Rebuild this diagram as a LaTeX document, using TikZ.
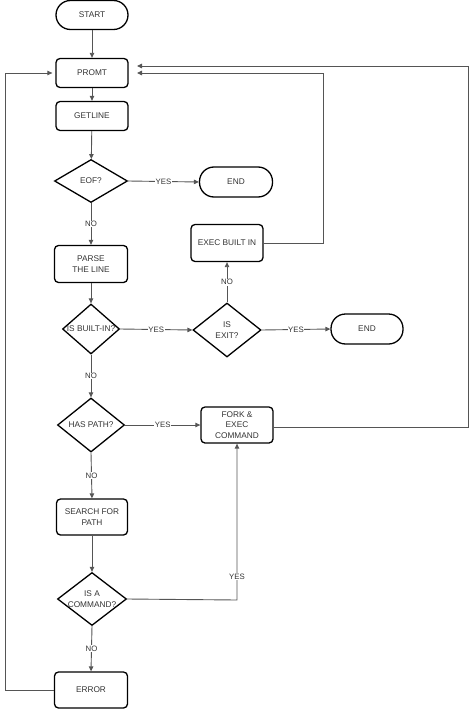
\documentclass[tikz,border=0pt]{standalone}
\usepackage{fontspec}
\setmainfont{Liberation Sans}
\usetikzlibrary{shapes.geometric,arrows.meta}
\definecolor{txt}{HTML}{333333}
\definecolor{ln}{HTML}{555555}
\begin{document}
\begin{tikzpicture}[x=1pt,y=-1pt,
  every node/.style={font=\fontsize{8.3}{10.5}\selectfont, text=txt, align=center},
  term/.style={draw=black, line width=1.3pt, rounded corners=14.5pt, minimum width=72pt, minimum height=29pt, inner sep=0pt},
  proc/.style={draw=black, line width=1.3pt, rounded corners=4pt, minimum width=72pt, inner sep=0pt},
  dec/.style={draw=black, line width=1.3pt, diamond, inner sep=0pt},
  conn/.style={draw=ln, line width=0.9pt, -{Triangle[length=5pt,width=4.5pt]}},
  plain/.style={draw=ln, line width=0.9pt},
  lab/.style={fill=white, inner sep=0.5pt, font=\fontsize{7.8}{9}\selectfont}
]
\useasboundingbox (0,0) rectangle (474,709);
% nodes
\node[term] (start) at (92,15) {START};
\node[proc, minimum height=29pt] (promt) at (92,73) {PROMT};
\node[proc, minimum height=29pt] (getline) at (92,116) {GETLINE};
\node[dec, minimum width=73pt, minimum height=43pt, label=center:{EOF?}] (eof) at (91,181) {};
\node[term, minimum width=73pt, minimum height=30pt] (end1) at (236,182) {END};
\node[proc, minimum height=37pt] (execb) at (227,243) {EXEC BUILT IN};
\node[proc, minimum width=73pt, minimum height=37pt] (parse) at (91,264) {PARSE\\THE LINE};
\node[dec, minimum width=57pt, minimum height=50pt, label=center:{IS BUILT-IN?}] (builtin) at (91,329) {};
\node[dec, minimum width=68pt, minimum height=54pt, label=center:{IS\\EXIT?}] (exit) at (227,330) {};
\node[term, minimum height=30pt] (end2) at (367,329) {END};
\node[dec, minimum width=67pt, minimum height=54pt, label=center:{HAS PATH?}] (haspath) at (91,425) {};
\node[proc, minimum height=36pt] (fork) at (237,425) {FORK \&\\EXEC\\COMMAND};
\node[proc, minimum width=71pt, minimum height=36pt] (search) at (92,517) {SEARCH FOR\\PATH};
\node[dec, minimum width=69pt, minimum height=53pt, label=center:{IS A\\COMMAND?}] (iscmd) at (92,599) {};
\node[proc, minimum width=73pt, minimum height=36pt] (error) at (91,690) {ERROR};
% free ends
\coordinate (pe1) at (137,73);
\coordinate (pe2) at (137,66);
\coordinate (le) at (5,690);
\coordinate (r1) at (323,243);
\coordinate (r2) at (468,427);
\coordinate (cm) at (237,600);
% connectors
\draw[conn] (start) -- (promt);
\draw[conn] (promt) -- (getline);
\draw[conn] (getline) -- (eof);
\draw[conn] (eof.east) -- node[lab]{YES} (end1.west);
\draw[conn] (eof.south) -- node[lab]{NO} (parse.north);
\draw[conn] (parse) -- (builtin);
\draw[conn] (builtin.east) -- node[lab]{YES} (exit.west);
\draw[conn] (exit.north) -- node[lab]{NO} (execb.south);
\draw[conn] (exit.east) -- node[lab]{YES} (end2.west);
\draw[conn] (builtin.south) -- node[lab]{NO} (haspath.north);
\draw[conn] (haspath.east) -- node[lab]{YES} (fork.west);
\draw[conn] (haspath.south) -- node[lab]{NO} (search.north);
\draw[conn] (search) -- (iscmd);
\draw[conn] (iscmd.east) -- (cm) -- node[lab, pos=0.15]{YES} (fork.south);
\draw[conn] (iscmd.south) -- node[lab]{NO} (error.north);
\draw[conn] (error.west) -- (le) |- ([xshift=-3pt]promt.west);
\draw[conn] (execb.east) -- (r1) |- (pe1);
\draw[conn] (fork.east |- r2) -- (r2) |- (pe2);
\end{tikzpicture}
\end{document}
